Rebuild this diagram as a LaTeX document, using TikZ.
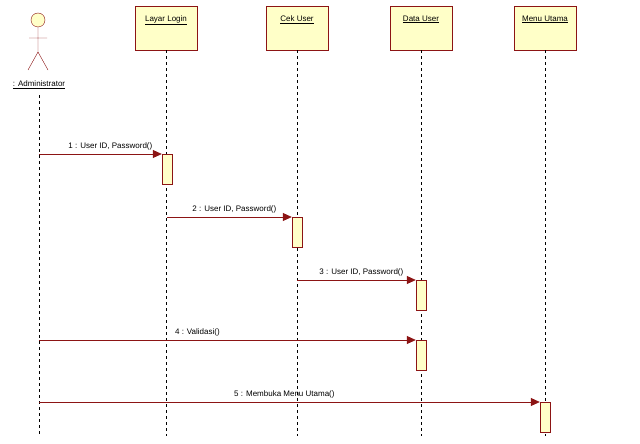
\documentclass[tikz,border=0pt]{standalone}
\usepackage{fontspec}
\setmainfont{Liberation Sans}
\usetikzlibrary{arrows.meta}
\definecolor{dr}{RGB}{140,20,20}
\definecolor{fy}{RGB}{255,255,200}
\begin{document}
\begin{tikzpicture}[x=1pt,y=-1pt,
 obj/.style={draw=dr,fill=fy,minimum width=62pt,minimum height=44pt,anchor=north,inner sep=0pt},
 ttl/.style={font=\fontsize{8}{9}\selectfont},
 act/.style={draw=dr,fill=fy,minimum width=10pt,minimum height=30pt,anchor=north,inner sep=0pt},
 life/.style={dash pattern=on 3pt off 3pt,thick},
 msg/.style={draw=dr,thick,-{Triangle[length=9pt,width=8pt]}},
 lbl/.style={font=\fontsize{8}{9}\selectfont,above}]
\useasboundingbox (0,0) rectangle (640,444);
% actor
\draw[dr,fill=fy] (38,20) circle (7);
\draw[dr] (38,27) -- (38,52) (29,38) -- (47,38) (38,52) -- (28,70) (38,52) -- (48,70);
\node[ttl] (adm) at (39,85) {\underline{: Administrator}};
\coordinate (a0) at (39,95); \coordinate (a1) at (39,435);
\draw[life] (a0) -- (a1);
% objects
\foreach \n/\x/\t in {ll/166/Layar Login,cu/297/Cek User,du/421/Data User,mu/545/Menu Utama}{
 \node[obj] (\n) at (\x,6) {};
 \node[ttl,anchor=north] at (\x,12) {\underline{\t}};
 \coordinate (\n e) at (\x,436);
 \draw[life] (\n.south) -- (\n e);
}
\node[act] (x1) at (167,154) {};
\node[act] (x2) at (297,217) {};
\node[act] (x3) at (421,280) {};
\node[act] (x4) at (421,340) {};
\node[act] (x5) at (545,402) {};
\coordinate (m1) at (39,154); \coordinate (m2) at (167,217); \coordinate (m3) at (297,280);
\coordinate (m4) at (39,340); \coordinate (m5) at (39,402);
\draw[msg] (m1) -- (x1.north west) node[lbl,midway,xshift=10pt] {1 : User ID, Password()};
\draw[msg] (m2) -- (x2.north west) node[lbl,midway,xshift=5pt] {2 : User ID, Password()};
\draw[msg] (m3) -- (x3.north west) node[lbl,midway,xshift=5pt] {3 : User ID, Password()};
\draw[msg] (m4) -- (x4.north west) node[lbl,midway,xshift=-30pt] {4 : Validasi()};
\draw[msg] (m5) -- (x5.north west) node[lbl,midway,xshift=-5pt] {5 : Membuka Menu Utama()};
\end{tikzpicture}
\end{document}
